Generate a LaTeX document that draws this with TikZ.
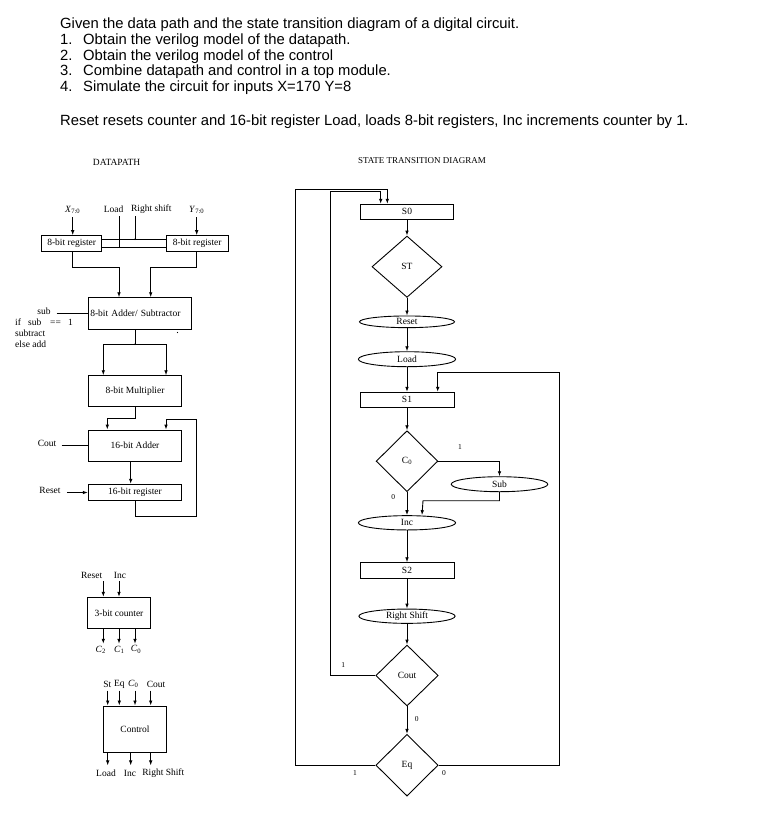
\documentclass[tikz,border=0pt]{standalone}
\usepackage{fontspec}
\setmainfont{Liberation Serif}
\newfontfamily\sansf{Liberation Sans}
\usetikzlibrary{shapes.geometric,arrows.meta}
\begin{document}
\begin{tikzpicture}[x=1pt,y=-1pt,
  every node/.style={font=\fontsize{9.5}{11}\selectfont, text=black, inner sep=0pt},
  box/.style={draw, line width=0.9pt, inner sep=0pt},
  ell/.style={draw, ellipse, line width=0.9pt, inner sep=0pt},
  dia/.style={draw, diamond, line width=0.9pt, inner sep=0pt},
  ln/.style={line width=0.9pt},
  arr/.style={line width=0.9pt, -{Latex[length=5pt,width=3.6pt]}},
  lab/.style={inner sep=0pt, font=\fontsize{7.5}{9}\selectfont},
  top/.style={anchor=base west, inner sep=0pt, font=\sansf\fontsize{14.8}{15.6}\selectfont},
  lft/.style={anchor=base west, inner sep=0pt}]
\useasboundingbox (0,0) rectangle (758,815);
\fill[white] (0,0) rectangle (758,815);

% ---------- header text ----------
\node[top] (t1) at (60,28.5) {Given the data path and the state transition diagram of a digital circuit.};
\node[top] (n1) at (60,44.3) {1.};
\node[top] (i1) at (83,44.3) {Obtain the verilog model of the datapath.};
\node[top] (n2) at (60,60) {2.};
\node[top] (i2) at (83,60) {Obtain the verilog model of the control};
\node[top] (n3) at (60,75.6) {3.};
\node[top] (i3) at (83,75.6) {Combine datapath and control in a top module.};
\node[top] (n4) at (60,91.2) {4.};
\node[top] (i4) at (83,91.2) {Simulate the circuit for inputs X=170 Y=8};
\node[top] (t2) at (60,125.7) {Reset resets counter and 16-bit register Load, loads 8-bit registers, Inc increments counter by 1.};

\node[lft, font=\fontsize{9.5}{11}\selectfont] (h1) at (92.7,165) {DATAPATH};
\node[lft, font=\fontsize{9}{11}\selectfont] (h2) at (358,163) {STATE TRANSITION DIAGRAM};

% ---------- datapath ----------
\node (xlab) at (72.7,210) {\textit{X}\textsubscript{7:0}};
\node (loadlab) at (113.7,209) {Load};
\node (rslab) at (151.3,209) {Right shift};
\node (ylab) at (196.7,210) {\textit{Y}\textsubscript{7:0}};
\node[box, minimum width=60pt, minimum height=15.3pt] (regL) at (71.7,243.3) {8-bit register};
\node[box, minimum width=62.3pt, minimum height=15.3pt] (regR) at (197.2,243.3) {8-bit register};
\draw[arr] ([yshift=-3pt]xlab.south) -- (xlab.south |- regL.north);
\draw[arr] ([yshift=-3pt]ylab.south) -- (ylab.south |- regR.north);
\draw[ln] ([yshift=4pt]regL.east) coordinate (upL) -- ([yshift=4pt]regR.west);
\draw[ln] ([yshift=-4pt]regL.east) coordinate (lowL) -- ([yshift=-4pt]regR.west);
\coordinate (loadtop) at (119,216);
\coordinate (rstop) at (135,216);
\draw[ln] (loadtop) -- (loadtop |- lowL);
\draw[ln] (rstop) -- (rstop |- upL);
\fill (rstop |- upL) circle (0.9pt);

\node[box, minimum height=31.6pt, text width=99.4pt, inner xsep=2pt, align=left] (addsub) at (140,313.5) {8-bit Adder/ Subtractor};
\draw[arr] (xlab.south |- regL.south) -- ++(0,15.7) -| ([xshift=-21pt]addsub.north);
\draw[arr] (ylab.south |- regR.south) -- ++(0,15.7) -| ([xshift=10.7pt]addsub.north);

\node (sublab) at (44,311) {sub};
\coordinate (subend) at (56.7,313.5);
\draw[ln] (subend) -- (addsub.west);
\node[lft] (ifl) at (15,325) {if\hspace{7.2pt}sub\hspace{8.8pt}==\hspace{7.3pt}1};
\node[lft] (subtr) at (15,336) {subtract};
\node[lft] (elsel) at (15,347.3) {else add};
\fill (177.5,332.5) circle (0.6pt);

\node[box, minimum width=93.4pt, minimum height=31pt] (mult) at (135,391.2) {8-bit Multiplier};
\coordinate (split1) at (135,344.3);
\draw[ln] (split1 |- addsub.south) -- (split1);
\draw[arr] (split1) -| ([xshift=-31.7pt]mult.north);
\draw[arr] (split1) -| ([xshift=31pt]mult.north);
\fill (split1) circle (0.9pt);

\node[box, minimum width=93.4pt, minimum height=31pt] (add16) at (135,445.5) {16-bit Adder};
\draw[arr] (mult.south) -- ++(0,11.6) -| ([xshift=-27.7pt]add16.north);
\node (coutlab) at (47,443) {Cout};
\coordinate (coutend) at (61.7,445.5);
\draw[ln] (coutend) -- (add16.west);

\node[box, minimum width=93.4pt, minimum height=16.4pt] (reg16) at (135,492.5) {16-bit register};
\draw[arr] ([xshift=-4.3pt]add16.south) -- ([xshift=-4.3pt]reg16.north);
\node (resetlab) at (50,490.5) {Reset};
\draw[arr] ([xshift=6pt]resetlab.east |- reg16.west) -- (reg16.west);
\draw[arr] (reg16.south) -- ++(0,15) -| ++(61.7,-96.7) -| ([xshift=31pt]add16.north);

% ---------- counter ----------
\node (cres) at (91.7,575) {Reset};
\node (cinc) at (120,575) {Inc};
\node[box, minimum width=63.4pt, minimum height=31pt] (cnt) at (119,612.8) {3-bit counter};
\draw[arr] ([xshift=-15.7pt]cnt.north) ++(0,-15.6) -- ([xshift=-15.7pt]cnt.north);
\draw[arr] (cnt.north) ++(0,-15.6) -- (cnt.north);
\draw[arr] ([xshift=-15.7pt]cnt.south) -- ++(0,15);
\draw[arr] (cnt.south) -- ++(0,15);
\draw[arr] ([xshift=16pt]cnt.south) -- ++(0,15);
\node (c2) at (100.7,650) {\textit{C}\textsubscript{2}};
\node (c1) at (119.3,649.5) {\textit{C}\textsubscript{1}};
\node (c0) at (136,649.5) {\textit{C}\textsubscript{0}};

% ---------- control ----------
\node (st) at (107.3,684) {St};
\node (eq) at (119.3,684) {Eq};
\node (cz) at (133.3,684) {\textit{C}\textsubscript{0}};
\node (cout2) at (156,684) {Cout};
\node[box, minimum width=63.4pt, minimum height=46.7pt] (ctrl) at (135,729.3) {Control};
\draw[arr] ([xshift=-27.3pt]ctrl.north) ++(0,-15) -- ([xshift=-27.3pt]ctrl.north);
\draw[arr] ([xshift=-15.7pt]ctrl.north) ++(0,-15) -- ([xshift=-15.7pt]ctrl.north);
\draw[arr] (ctrl.north) ++(0,-15) -- (ctrl.north);
\draw[arr] ([xshift=15.7pt]ctrl.north) ++(0,-15) -- ([xshift=15.7pt]ctrl.north);
\draw[arr] ([xshift=-27.3pt]ctrl.south) -- ++(0,12.3);
\draw[arr] ([xshift=-4.3pt]ctrl.south) -- ++(0,12.3);
\draw[arr] ([xshift=15.7pt]ctrl.south) -- ++(0,12.3);
\node (oload) at (106,773.3) {Load};
\node (oinc) at (130,773.3) {Inc};
\node (ors) at (163.3,773.3) {Right Shift};

% ---------- state transition diagram ----------
\node[box, minimum width=93.3pt, minimum height=15pt] (S0) at (407,211.8) {S0};
\node[dia, minimum width=70pt, minimum height=61.3pt] (stD) at (407,266.7) {ST};
\node[ell, minimum width=95pt, minimum height=11.7pt] (resetE) at (407,321.8) {Reset};
\node[ell, minimum width=97.3pt, minimum height=15pt] (loadE) at (407,359.2) {Load};
\node[box, minimum width=94pt, minimum height=15pt] (S1) at (407,399.8) {S1};
\node[dia, minimum width=61.7pt, minimum height=61pt] (c0D) at (407,461.2) {C\textsubscript{0}};
\node[ell, minimum width=96.6pt, minimum height=15pt] (subE) at (499.5,484.2) {Sub};
\node[ell, minimum width=97.3pt, minimum height=14.3pt] (incE) at (407,522.8) {Inc};
\node[box, minimum width=94pt, minimum height=15.6pt] (S2) at (407,570.5) {S2};
\node[ell, minimum width=96.3pt, minimum height=14.3pt] (rsE) at (407,616.2) {Right Shift};
\node[dia, minimum width=62.3pt, minimum height=61pt] (coutD) at (407,675.5) {Cout};
\node[dia, minimum width=62.3pt, minimum height=61.7pt] (eqD) at (407,765.2) {Eq};

\draw[arr] (S0) -- (stD);
\draw[arr] (stD) -- (resetE);
\draw[arr] (resetE) -- (loadE);
\draw[arr] (loadE) -- (S1);
\draw[arr] (S1) -- (c0D);
\draw[arr] (c0D) -- (incE);
\draw[arr] (c0D.east) -| (subE.north);
\coordinate (subbend) at (423,500.7);
\draw[arr] (subE.south) |- (subbend) -- ([xshift=15pt]incE.north);
\draw[arr] (incE) -- (S2);
\draw[arr] (S2) -- (rsE);
\draw[arr] (rsE) -- (coutD);
\draw[arr] (coutD) -- (eqD);
\draw[arr] (coutD.west) -| ++(-45.3,-484.5) -| ([xshift=-26.3pt]S0.north);
\draw[arr] (eqD.west) -| ++(-80,-575.9) -| ([xshift=-19.7pt]S0.north);
\draw[arr] (eqD.east) -| ++(121.3,-392.9) -| ([xshift=30.7pt]S1.north);

\node[lab] (l1) at (460,447.3) {1};
\node[lab] (l2) at (393.3,496.7) {0};
\node[lab] (l3) at (343.3,665) {1};
\node[lab] (l4) at (416.7,719) {0};
\node[lab] (l5) at (355,773.3) {1};
\node[lab] (l6) at (444,773.3) {0};
\end{tikzpicture}
\end{document}
